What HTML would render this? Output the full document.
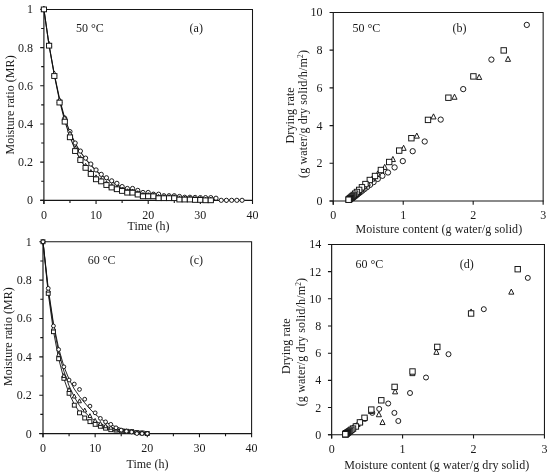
<!DOCTYPE html>
<html lang="en"><head><meta charset="utf-8"><title>Drying curves</title>
<style>
html,body{margin:0;padding:0;background:#fff}
svg{display:block}
text{font-family:"Liberation Serif","DejaVu Serif",serif;font-size:12px;fill:#1a1a1a}
</style></head><body>
<svg width="550" height="476" viewBox="0 0 550 476">
<rect width="550" height="476" fill="#fff"/>
<path d="M43.9 9.4H252.5V200.3" fill="none" stroke="#161616" stroke-width="1.05"/>
<path d="M43.9 8.9V204.0M40.199999999999996 200.3H253.0" fill="none" stroke="#161616" stroke-width="1.15"/>
<path d="M43.90 200.3v3.7M96.05 200.3v3.7M148.20 200.3v3.7M200.35 200.3v3.7M252.50 200.3v3.7M69.97 200.3v2.7M122.12 200.3v2.7M174.28 200.3v2.7M226.43 200.3v2.7M43.9 200.30h-3.7M43.9 162.12h-3.7M43.9 123.94h-3.7M43.9 85.76h-3.7M43.9 47.58h-3.7M43.9 9.40h-3.7M43.9 181.21h-2.7M43.9 143.03h-2.7M43.9 104.85h-2.7M43.9 66.67h-2.7M43.9 28.49h-2.7" fill="none" stroke="#161616" stroke-width="1.1"/>
<text x="43.90" y="218.50" text-anchor="middle">0</text>
<text x="96.05" y="218.50" text-anchor="middle">10</text>
<text x="148.20" y="218.50" text-anchor="middle">20</text>
<text x="200.35" y="218.50" text-anchor="middle">30</text>
<text x="252.50" y="218.50" text-anchor="middle">40</text>
<text x="33.10" y="204.30" text-anchor="end">0</text>
<text x="33.10" y="166.12" text-anchor="end">0.2</text>
<text x="33.10" y="127.94" text-anchor="end">0.4</text>
<text x="33.10" y="89.76" text-anchor="end">0.6</text>
<text x="33.10" y="51.58" text-anchor="end">0.8</text>
<text x="33.10" y="13.40" text-anchor="end">1</text>
<g>
<polyline points="43.90,9.40 49.11,45.67 54.33,74.31 59.55,98.88 64.76,118.40 69.97,132.24 75.19,143.32 80.41,151.95 85.62,158.97 90.84,165.17 96.05,170.71 101.26,175.24 106.48,178.82 111.69,181.83 116.91,184.65 122.12,187.37 127.34,189.13 132.56,190.09 137.77,191.57 142.98,193.09 148.20,194.05 153.41,194.91 158.63,195.72 163.84,196.48 169.06,196.86 174.28,197.05 179.49,197.63 184.71,198.20 189.92,198.44 195.13,198.58 200.35,198.73 205.56,198.77 210.78,198.92 216.00,199.73" fill="none" stroke="#111" stroke-width="1.05" stroke-linejoin="round"/>
<polyline points="43.90,9.40 49.11,45.67 54.33,75.07 59.55,100.70 64.76,120.79 69.97,136.83 75.19,149.85 80.41,159.73 85.62,167.42 90.84,173.76 96.05,178.49 101.26,181.78 106.48,184.74 111.69,187.32 116.91,189.23 122.12,190.95 127.34,192.23 132.56,193.14 137.77,194.53 142.98,195.86 148.20,196.29 153.41,196.77 158.63,197.72 163.84,198.20 169.06,198.20 174.28,198.53 179.49,199.20 184.71,199.54 189.92,199.63 195.13,199.82 200.35,200.01 205.56,200.20 210.78,200.30" fill="none" stroke="#111" stroke-width="1.05" stroke-linejoin="round"/>
</g>
<g fill="#fff" stroke="#111" stroke-width="0.95">
<circle cx="43.90" cy="9.40" r="2.1"/>
<circle cx="49.11" cy="45.67" r="2.1"/>
<circle cx="54.33" cy="75.26" r="2.1"/>
<circle cx="59.55" cy="101.03" r="2.1"/>
<circle cx="64.76" cy="118.21" r="2.1"/>
<circle cx="69.97" cy="131.58" r="2.1"/>
<circle cx="75.19" cy="143.03" r="2.1"/>
<circle cx="80.41" cy="151.05" r="2.1"/>
<circle cx="85.62" cy="158.11" r="2.1"/>
<circle cx="90.84" cy="164.03" r="2.1"/>
<circle cx="96.05" cy="169.95" r="2.1"/>
<circle cx="101.26" cy="174.34" r="2.1"/>
<circle cx="106.48" cy="177.77" r="2.1"/>
<circle cx="111.69" cy="180.83" r="2.1"/>
<circle cx="116.91" cy="183.31" r="2.1"/>
<circle cx="122.12" cy="186.56" r="2.1"/>
<circle cx="127.34" cy="188.46" r="2.1"/>
<circle cx="132.56" cy="188.46" r="2.1"/>
<circle cx="137.77" cy="190.37" r="2.1"/>
<circle cx="142.98" cy="192.47" r="2.1"/>
<circle cx="148.20" cy="192.47" r="2.1"/>
<circle cx="153.41" cy="194.19" r="2.1"/>
<circle cx="158.63" cy="194.19" r="2.1"/>
<circle cx="163.84" cy="195.72" r="2.1"/>
<circle cx="169.06" cy="195.72" r="2.1"/>
<circle cx="174.28" cy="195.72" r="2.1"/>
<circle cx="179.49" cy="196.48" r="2.1"/>
<circle cx="184.71" cy="197.25" r="2.1"/>
<circle cx="189.92" cy="197.25" r="2.1"/>
<circle cx="195.13" cy="197.44" r="2.1"/>
<circle cx="200.35" cy="197.63" r="2.1"/>
<circle cx="205.56" cy="197.63" r="2.1"/>
<circle cx="210.78" cy="197.63" r="2.1"/>
<circle cx="216.00" cy="198.20" r="2.1"/>
<circle cx="221.21" cy="200.30" r="2.1"/>
<circle cx="226.43" cy="200.30" r="2.1"/>
<circle cx="231.64" cy="200.30" r="2.1"/>
<circle cx="236.85" cy="200.30" r="2.1"/>
<circle cx="242.07" cy="200.30" r="2.1"/>
<path d="M43.90 6.10L46.40 11.10H41.40Z"/>
<path d="M49.11 41.42L51.61 46.42H46.61Z"/>
<path d="M54.33 71.01L56.83 76.01H51.83Z"/>
<path d="M59.55 97.73L62.05 102.73H57.05Z"/>
<path d="M64.76 115.49L67.26 120.49H62.26Z"/>
<path d="M69.97 131.14L72.47 136.14H67.47Z"/>
<path d="M75.19 145.84L77.69 150.84H72.69Z"/>
<path d="M80.41 155.57L82.91 160.57H77.91Z"/>
<path d="M85.62 163.40L88.12 168.40H83.12Z"/>
<path d="M90.84 169.51L93.34 174.51H88.34Z"/>
<path d="M96.05 174.86L98.55 179.86H93.55Z"/>
<path d="M101.26 177.34L103.76 182.34H98.76Z"/>
<path d="M106.48 180.77L108.98 185.77H103.98Z"/>
<path d="M111.69 183.45L114.19 188.45H109.19Z"/>
<path d="M116.91 185.36L119.41 190.36H114.41Z"/>
<path d="M122.12 187.07L124.62 192.07H119.62Z"/>
<path d="M127.34 188.79L129.84 193.79H124.84Z"/>
<path d="M132.56 188.98L135.06 193.98H130.06Z"/>
<path d="M137.77 190.70L140.27 195.70H135.27Z"/>
<path d="M142.98 192.42L145.48 197.42H140.48Z"/>
<path d="M148.20 192.61L150.70 197.61H145.70Z"/>
<path d="M153.41 192.80L155.91 197.80H150.91Z"/>
<path d="M158.63 194.33L161.13 199.33H156.13Z"/>
<path d="M163.84 194.52L166.34 199.52H161.34Z"/>
<path d="M169.06 194.71L171.56 199.71H166.56Z"/>
<path d="M174.28 194.71L176.78 199.71H171.78Z"/>
<path d="M179.49 195.85L181.99 200.85H176.99Z"/>
<path d="M184.71 196.05L187.21 201.05H182.21Z"/>
<path d="M189.92 196.05L192.42 201.05H187.42Z"/>
<path d="M195.13 196.43L197.63 201.43H192.63Z"/>
<path d="M200.35 196.43L202.85 201.43H197.85Z"/>
<path d="M205.56 197.00L208.06 202.00H203.06Z"/>
<path d="M210.78 197.00L213.28 202.00H208.28Z"/>
<rect x="41.30" y="7.00" width="5.2" height="4.8"/>
<rect x="46.51" y="43.27" width="5.2" height="4.8"/>
<rect x="51.73" y="73.62" width="5.2" height="4.8"/>
<rect x="56.95" y="100.16" width="5.2" height="4.8"/>
<rect x="62.16" y="119.25" width="5.2" height="4.8"/>
<rect x="67.38" y="134.90" width="5.2" height="4.8"/>
<rect x="72.59" y="148.65" width="5.2" height="4.8"/>
<rect x="77.81" y="157.62" width="5.2" height="4.8"/>
<rect x="83.02" y="165.45" width="5.2" height="4.8"/>
<rect x="88.24" y="171.56" width="5.2" height="4.8"/>
<rect x="93.45" y="176.90" width="5.2" height="4.8"/>
<rect x="98.66" y="179.00" width="5.2" height="4.8"/>
<rect x="103.88" y="182.63" width="5.2" height="4.8"/>
<rect x="109.09" y="185.11" width="5.2" height="4.8"/>
<rect x="114.31" y="186.83" width="5.2" height="4.8"/>
<rect x="119.53" y="188.55" width="5.2" height="4.8"/>
<rect x="124.74" y="190.26" width="5.2" height="4.8"/>
<rect x="129.96" y="190.26" width="5.2" height="4.8"/>
<rect x="135.17" y="192.17" width="5.2" height="4.8"/>
<rect x="140.38" y="193.89" width="5.2" height="4.8"/>
<rect x="145.60" y="193.89" width="5.2" height="4.8"/>
<rect x="150.81" y="193.89" width="5.2" height="4.8"/>
<rect x="156.03" y="195.80" width="5.2" height="4.8"/>
<rect x="161.25" y="195.80" width="5.2" height="4.8"/>
<rect x="166.46" y="195.80" width="5.2" height="4.8"/>
<rect x="171.68" y="195.80" width="5.2" height="4.8"/>
<rect x="176.89" y="197.14" width="5.2" height="4.8"/>
<rect x="182.11" y="197.14" width="5.2" height="4.8"/>
<rect x="187.32" y="197.14" width="5.2" height="4.8"/>
<rect x="192.53" y="197.52" width="5.2" height="4.8"/>
<rect x="197.75" y="197.52" width="5.2" height="4.8"/>
<rect x="202.97" y="197.90" width="5.2" height="4.8"/>
<rect x="208.18" y="197.90" width="5.2" height="4.8"/>
</g>
<text x="76" y="31.8">50 °C</text>
<text x="189.6" y="31.8">(a)</text>
<text x="148.5" y="229.5" text-anchor="middle">Time (h)</text>
<text transform="translate(14.2 154.6) rotate(-90)" textLength="99.3">Moisture ratio (MR)</text>
<path d="M43.0 241.75H251.6V433.55" fill="none" stroke="#161616" stroke-width="1.05"/>
<path d="M43.0 241.25V437.25M39.3 433.55H252.1" fill="none" stroke="#161616" stroke-width="1.15"/>
<path d="M43.00 433.55v3.7M95.15 433.55v3.7M147.30 433.55v3.7M199.45 433.55v3.7M251.60 433.55v3.7M69.08 433.55v2.7M121.22 433.55v2.7M173.38 433.55v2.7M225.53 433.55v2.7M43.0 433.55h-3.7M43.0 395.19h-3.7M43.0 356.83h-3.7M43.0 318.47h-3.7M43.0 280.11h-3.7M43.0 241.75h-3.7M43.0 414.37h-2.7M43.0 376.01h-2.7M43.0 337.65h-2.7M43.0 299.29h-2.7M43.0 260.93h-2.7" fill="none" stroke="#161616" stroke-width="1.1"/>
<text x="43.00" y="452.35" text-anchor="middle">0</text>
<text x="95.15" y="452.35" text-anchor="middle">10</text>
<text x="147.30" y="452.35" text-anchor="middle">20</text>
<text x="199.45" y="452.35" text-anchor="middle">30</text>
<text x="251.60" y="452.35" text-anchor="middle">40</text>
<text x="31.80" y="437.55" text-anchor="end">0</text>
<text x="31.80" y="399.19" text-anchor="end">0.2</text>
<text x="31.80" y="360.83" text-anchor="end">0.4</text>
<text x="31.80" y="322.47" text-anchor="end">0.6</text>
<text x="31.80" y="284.11" text-anchor="end">0.8</text>
<text x="31.80" y="245.75" text-anchor="end">1</text>
<g>
<polyline points="43.00,241.75 48.22,288.36 53.43,323.26 58.64,348.20 63.86,366.42 69.08,379.27 74.29,389.05 79.50,396.53 84.72,402.86 89.94,409.00 95.15,414.18 100.36,418.59 105.58,422.04 110.80,424.73 116.01,426.84 121.22,428.56 126.44,429.71 131.66,430.67 136.87,431.44 142.08,432.02 147.30,432.40" fill="none" stroke="#111" stroke-width="0.9" stroke-linejoin="round"/>
<polyline points="43.00,241.75 48.22,290.75 53.43,325.67 58.64,351.63 63.86,371.13 69.08,385.87 74.29,397.06 79.50,405.58 84.72,412.08 89.94,417.05 95.15,420.86 100.36,423.78 105.58,426.02 110.80,427.74 116.01,429.06 121.22,430.09 126.44,430.87 131.66,431.48 136.87,431.95 142.08,432.31 147.30,432.59" fill="none" stroke="#111" stroke-width="0.9" stroke-linejoin="round"/>
<polyline points="43.00,241.75 48.22,293.30 53.43,330.99 58.64,358.55 63.86,378.71 69.08,393.45 74.29,404.22 79.50,412.11 84.72,417.87 89.94,422.08 95.15,425.16 100.36,427.42 105.58,429.07 110.80,430.27 116.01,431.15 121.22,431.80 126.44,432.27 131.66,432.61 136.87,432.86 142.08,433.05 147.30,433.18" fill="none" stroke="#111" stroke-width="0.9" stroke-linejoin="round"/>
</g>
<g fill="#fff" stroke="#111" stroke-width="0.95">
<rect x="41.05" y="239.80" width="3.9" height="3.9"/>
<rect x="46.27" y="291.39" width="3.9" height="3.9"/>
<rect x="51.48" y="329.75" width="3.9" height="3.9"/>
<rect x="56.69" y="356.80" width="3.9" height="3.9"/>
<rect x="61.91" y="376.36" width="3.9" height="3.9"/>
<rect x="67.12" y="391.32" width="3.9" height="3.9"/>
<rect x="72.34" y="403.21" width="3.9" height="3.9"/>
<rect x="77.55" y="410.89" width="3.9" height="3.9"/>
<rect x="82.77" y="416.06" width="3.9" height="3.9"/>
<rect x="87.98" y="419.71" width="3.9" height="3.9"/>
<rect x="93.20" y="422.39" width="3.9" height="3.9"/>
<rect x="98.41" y="424.31" width="3.9" height="3.9"/>
<rect x="103.63" y="426.23" width="3.9" height="3.9"/>
<rect x="108.84" y="427.76" width="3.9" height="3.9"/>
<rect x="114.06" y="428.15" width="3.9" height="3.9"/>
<rect x="119.27" y="429.30" width="3.9" height="3.9"/>
<rect x="124.49" y="429.30" width="3.9" height="3.9"/>
<rect x="129.71" y="429.68" width="3.9" height="3.9"/>
<rect x="134.92" y="430.64" width="3.9" height="3.9"/>
<rect x="140.13" y="431.02" width="3.9" height="3.9"/>
<rect x="145.35" y="431.60" width="3.9" height="3.9"/>
<path d="M43.00 239.30L44.95 243.20H41.05Z"/>
<path d="M48.22 288.21L50.17 292.11H46.27Z"/>
<path d="M53.43 325.99L55.38 329.89H51.48Z"/>
<path d="M58.64 352.46L60.59 356.36H56.69Z"/>
<path d="M63.86 373.56L65.81 377.46H61.91Z"/>
<path d="M69.08 387.56L71.03 391.46H67.12Z"/>
<path d="M74.29 394.08L76.24 397.98H72.34Z"/>
<path d="M79.50 398.88L81.45 402.78H77.55Z"/>
<path d="M84.72 408.08L86.67 411.98H82.77Z"/>
<path d="M89.94 413.65L91.89 417.55H87.98Z"/>
<path d="M95.15 418.44L97.10 422.34H93.20Z"/>
<path d="M100.36 421.51L102.31 425.41H98.41Z"/>
<path d="M105.58 423.81L107.53 427.71H103.63Z"/>
<path d="M110.80 425.35L112.75 429.25H108.84Z"/>
<path d="M116.01 426.88L117.96 430.78H114.06Z"/>
<path d="M121.22 428.22L123.17 432.12H119.27Z"/>
<path d="M126.44 428.80L128.39 432.70H124.49Z"/>
<path d="M131.66 429.57L133.60 433.47H129.71Z"/>
<path d="M136.87 430.33L138.82 434.23H134.92Z"/>
<path d="M142.08 430.72L144.03 434.62H140.13Z"/>
<path d="M147.30 431.10L149.25 435.00H145.35Z"/>
<circle cx="43.00" cy="241.75" r="1.9"/>
<circle cx="48.22" cy="288.36" r="1.9"/>
<circle cx="53.43" cy="325.95" r="1.9"/>
<circle cx="58.64" cy="349.54" r="1.9"/>
<circle cx="63.86" cy="366.80" r="1.9"/>
<circle cx="69.08" cy="380.04" r="1.9"/>
<circle cx="74.29" cy="384.07" r="1.9"/>
<circle cx="79.50" cy="389.44" r="1.9"/>
<circle cx="84.72" cy="399.22" r="1.9"/>
<circle cx="89.94" cy="406.12" r="1.9"/>
<circle cx="95.15" cy="412.84" r="1.9"/>
<circle cx="100.36" cy="418.40" r="1.9"/>
<circle cx="105.58" cy="421.85" r="1.9"/>
<circle cx="110.80" cy="424.34" r="1.9"/>
<circle cx="116.01" cy="427.80" r="1.9"/>
<circle cx="121.22" cy="430.10" r="1.9"/>
<circle cx="126.44" cy="431.25" r="1.9"/>
<circle cx="131.66" cy="432.02" r="1.9"/>
<circle cx="136.87" cy="433.55" r="1.9"/>
<circle cx="142.08" cy="433.55" r="1.9"/>
<circle cx="147.30" cy="433.55" r="1.9"/>
</g>
<text x="87.8" y="263.6">60 °C</text>
<text x="189.8" y="263.6">(c)</text>
<text x="147.5" y="468.1" text-anchor="middle">Time (h)</text>
<text transform="translate(12.2 386.0) rotate(-90)" textLength="98.8">Moisture ratio (MR)</text>
<path d="M333.25 12.45H543.15V201.0" fill="none" stroke="#161616" stroke-width="1.05"/>
<path d="M333.25 11.95V204.7M329.55 201.0H543.65" fill="none" stroke="#161616" stroke-width="1.15"/>
<path d="M333.25 201.0v3.7M403.22 201.0v3.7M473.18 201.0v3.7M543.15 201.0v3.7M333.25 201.00h-3.7M333.25 163.29h-3.7M333.25 125.58h-3.7M333.25 87.87h-3.7M333.25 50.16h-3.7M333.25 12.45h-3.7" fill="none" stroke="#161616" stroke-width="1.1"/>
<text x="333.25" y="219.20" text-anchor="middle">0</text>
<text x="403.22" y="219.20" text-anchor="middle">1</text>
<text x="473.18" y="219.20" text-anchor="middle">2</text>
<text x="543.15" y="219.20" text-anchor="middle">3</text>
<text x="322.45" y="205.00" text-anchor="end">0</text>
<text x="322.45" y="167.29" text-anchor="end">2</text>
<text x="322.45" y="129.58" text-anchor="end">4</text>
<text x="322.45" y="91.87" text-anchor="end">6</text>
<text x="322.45" y="54.16" text-anchor="end">8</text>
<text x="322.45" y="16.45" text-anchor="end">10</text>
<g fill="#fff" stroke="#111" stroke-width="0.95">
<circle cx="526.80" cy="24.90" r="2.65"/>
<circle cx="491.40" cy="59.60" r="2.65"/>
<circle cx="463.20" cy="89.10" r="2.65"/>
<circle cx="440.70" cy="119.60" r="2.65"/>
<circle cx="424.70" cy="141.50" r="2.65"/>
<circle cx="412.70" cy="151.20" r="2.65"/>
<circle cx="402.80" cy="161.10" r="2.65"/>
<circle cx="394.60" cy="167.40" r="2.65"/>
<circle cx="388.00" cy="172.50" r="2.65"/>
<circle cx="382.40" cy="175.80" r="2.65"/>
<circle cx="377.80" cy="178.90" r="2.65"/>
<circle cx="373.59" cy="182.12" r="2.65"/>
<circle cx="370.06" cy="184.82" r="2.65"/>
<circle cx="367.09" cy="187.09" r="2.65"/>
<circle cx="364.59" cy="188.99" r="2.65"/>
<circle cx="362.50" cy="190.59" r="2.65"/>
<circle cx="360.74" cy="191.94" r="2.65"/>
<circle cx="359.26" cy="193.07" r="2.65"/>
<circle cx="358.02" cy="194.02" r="2.65"/>
<circle cx="356.98" cy="194.81" r="2.65"/>
<circle cx="356.10" cy="195.48" r="2.65"/>
<circle cx="355.36" cy="196.05" r="2.65"/>
<circle cx="354.75" cy="196.52" r="2.65"/>
<circle cx="354.23" cy="196.92" r="2.65"/>
<circle cx="353.79" cy="197.25" r="2.65"/>
<circle cx="353.42" cy="197.53" r="2.65"/>
<circle cx="353.12" cy="197.77" r="2.65"/>
<circle cx="352.86" cy="197.96" r="2.65"/>
<circle cx="352.64" cy="198.13" r="2.65"/>
<path d="M508.00 56.25L510.55 61.35H505.45Z"/>
<path d="M479.20 74.35L481.75 79.45H476.65Z"/>
<path d="M454.50 94.15L457.05 99.25H451.95Z"/>
<path d="M433.50 113.85L436.05 118.95H430.95Z"/>
<path d="M416.80 133.05L419.35 138.15H414.25Z"/>
<path d="M403.60 145.25L406.15 150.35H401.05Z"/>
<path d="M392.90 156.45L395.45 161.55H390.35Z"/>
<path d="M384.70 164.35L387.25 169.45H382.15Z"/>
<path d="M377.76 170.85L380.31 175.95H375.21Z"/>
<path d="M372.21 176.05L374.76 181.15H369.66Z"/>
<path d="M367.77 180.21L370.32 185.31H365.22Z"/>
<path d="M364.21 183.54L366.76 188.64H361.66Z"/>
<path d="M361.37 186.20L363.92 191.30H358.82Z"/>
<path d="M359.10 188.33L361.65 193.43H356.55Z"/>
<path d="M357.28 190.03L359.83 195.13H354.73Z"/>
<path d="M355.82 191.40L358.37 196.50H353.27Z"/>
<path d="M354.66 192.49L357.21 197.59H352.11Z"/>
<path d="M353.73 193.36L356.28 198.46H351.18Z"/>
<path d="M352.98 194.06L355.53 199.16H350.43Z"/>
<path d="M352.38 194.62L354.93 199.72H349.83Z"/>
<path d="M351.91 195.06L354.46 200.16H349.36Z"/>
<path d="M351.53 195.42L354.08 200.52H348.98Z"/>
<rect x="501.00" y="47.70" width="5.4" height="5.4"/>
<rect x="470.70" y="73.70" width="5.4" height="5.4"/>
<rect x="445.70" y="95.00" width="5.4" height="5.4"/>
<rect x="425.30" y="117.20" width="5.4" height="5.4"/>
<rect x="408.70" y="135.50" width="5.4" height="5.4"/>
<rect x="396.50" y="147.90" width="5.4" height="5.4"/>
<rect x="386.50" y="159.30" width="5.4" height="5.4"/>
<rect x="378.20" y="167.30" width="5.4" height="5.4"/>
<rect x="372.30" y="173.30" width="5.4" height="5.4"/>
<rect x="367.10" y="177.30" width="5.4" height="5.4"/>
<rect x="362.74" y="181.36" width="5.4" height="5.4"/>
<rect x="359.25" y="184.61" width="5.4" height="5.4"/>
<rect x="356.46" y="187.21" width="5.4" height="5.4"/>
<rect x="354.23" y="189.29" width="5.4" height="5.4"/>
<rect x="352.44" y="190.95" width="5.4" height="5.4"/>
<rect x="351.01" y="192.28" width="5.4" height="5.4"/>
<rect x="349.87" y="193.34" width="5.4" height="5.4"/>
<rect x="348.96" y="194.19" width="5.4" height="5.4"/>
<rect x="348.23" y="194.88" width="5.4" height="5.4"/>
<rect x="347.64" y="195.42" width="5.4" height="5.4"/>
<rect x="347.17" y="195.86" width="5.4" height="5.4"/>
<rect x="346.80" y="196.20" width="5.4" height="5.4"/>
<rect x="346.50" y="196.48" width="5.4" height="5.4"/>
<rect x="346.26" y="196.71" width="5.4" height="5.4"/>
<rect x="346.07" y="196.89" width="5.4" height="5.4"/>
<rect x="345.91" y="197.03" width="5.4" height="5.4"/>
</g>
<text x="352.5" y="32.2">50 °C</text>
<text x="452.5" y="32.2">(b)</text>
<text x="355.4" y="233.3" textLength="166.8">Moisture content (g water/g solid)</text>
<text transform="translate(294.0 143.5) rotate(-90)" textLength="56.2">Drying rate</text>
<text transform="translate(307.4 177.9) rotate(-90)" textLength="127.8">(g water/g dry solid/h/m<tspan font-size="7.5" dy="-4">2</tspan><tspan dy="4">)</tspan></text>
<path d="M331.65 244.45H544.45V434.75" fill="none" stroke="#161616" stroke-width="1.05"/>
<path d="M331.65 243.95V438.45M327.95 434.75H544.95" fill="none" stroke="#161616" stroke-width="1.15"/>
<path d="M331.65 434.75v3.7M402.58 434.75v3.7M473.52 434.75v3.7M544.45 434.75v3.7M331.65 434.75h-3.7M331.65 407.56h-3.7M331.65 380.38h-3.7M331.65 353.19h-3.7M331.65 326.01h-3.7M331.65 298.82h-3.7M331.65 271.64h-3.7M331.65 244.45h-3.7" fill="none" stroke="#161616" stroke-width="1.1"/>
<text x="331.65" y="453.25" text-anchor="middle">0</text>
<text x="402.58" y="453.25" text-anchor="middle">1</text>
<text x="473.52" y="453.25" text-anchor="middle">2</text>
<text x="544.45" y="453.25" text-anchor="middle">3</text>
<text x="321.35" y="438.75" text-anchor="end">0</text>
<text x="321.35" y="411.56" text-anchor="end">2</text>
<text x="321.35" y="384.38" text-anchor="end">4</text>
<text x="321.35" y="357.19" text-anchor="end">6</text>
<text x="321.35" y="330.01" text-anchor="end">8</text>
<text x="321.35" y="302.82" text-anchor="end">10</text>
<text x="321.35" y="275.64" text-anchor="end">12</text>
<text x="321.35" y="248.45" text-anchor="end">14</text>
<g fill="#fff" stroke="#111" stroke-width="0.95">
<circle cx="527.80" cy="277.90" r="2.5"/>
<circle cx="483.80" cy="309.20" r="2.5"/>
<circle cx="448.50" cy="354.20" r="2.5"/>
<circle cx="426.00" cy="377.50" r="2.5"/>
<circle cx="410.00" cy="393.00" r="2.5"/>
<circle cx="388.20" cy="403.50" r="2.5"/>
<circle cx="379.20" cy="408.90" r="2.5"/>
<circle cx="394.40" cy="412.90" r="2.5"/>
<circle cx="398.30" cy="421.00" r="2.5"/>
<circle cx="372.30" cy="412.90" r="2.5"/>
<circle cx="365.00" cy="418.50" r="2.5"/>
<circle cx="360.00" cy="422.50" r="2.5"/>
<circle cx="356.00" cy="425.80" r="2.5"/>
<circle cx="354.10" cy="427.34" r="2.5"/>
<circle cx="352.58" cy="428.57" r="2.5"/>
<circle cx="351.36" cy="429.56" r="2.5"/>
<circle cx="350.39" cy="430.35" r="2.5"/>
<circle cx="349.61" cy="430.98" r="2.5"/>
<circle cx="348.99" cy="431.48" r="2.5"/>
<circle cx="348.49" cy="431.89" r="2.5"/>
<circle cx="348.09" cy="432.21" r="2.5"/>
<circle cx="347.78" cy="432.47" r="2.5"/>
<circle cx="347.52" cy="432.67" r="2.5"/>
<circle cx="347.32" cy="432.84" r="2.5"/>
<circle cx="347.15" cy="432.97" r="2.5"/>
<circle cx="347.02" cy="433.08" r="2.5"/>
<circle cx="346.92" cy="433.16" r="2.5"/>
<path d="M511.30 289.05L513.85 294.15H508.75Z"/>
<path d="M471.10 308.95L473.65 314.05H468.55Z"/>
<path d="M436.40 349.25L438.95 354.35H433.85Z"/>
<path d="M412.40 370.55L414.95 375.65H409.85Z"/>
<path d="M395.10 388.75L397.65 393.85H392.55Z"/>
<path d="M378.90 411.65L381.45 416.75H376.35Z"/>
<path d="M382.50 419.45L385.05 424.55H379.95Z"/>
<path d="M371.00 408.45L373.55 413.55H368.45Z"/>
<path d="M364.00 415.95L366.55 421.05H361.45Z"/>
<path d="M360.40 419.01L362.95 424.11H357.85Z"/>
<path d="M357.52 421.46L360.07 426.56H354.97Z"/>
<path d="M355.22 423.42L357.77 428.52H352.67Z"/>
<path d="M353.37 424.98L355.92 430.08H350.82Z"/>
<path d="M351.90 426.24L354.45 431.34H349.35Z"/>
<path d="M350.72 427.24L353.27 432.34H348.17Z"/>
<path d="M349.77 428.04L352.32 433.14H347.22Z"/>
<path d="M349.02 428.68L351.57 433.78H346.47Z"/>
<path d="M348.42 429.20L350.97 434.30H345.87Z"/>
<path d="M347.93 429.61L350.48 434.71H345.38Z"/>
<path d="M347.55 429.94L350.10 435.04H345.00Z"/>
<path d="M347.24 430.20L349.79 435.30H344.69Z"/>
<path d="M346.99 430.41L349.54 435.51H344.44Z"/>
<path d="M346.79 430.58L349.34 435.68H344.24Z"/>
<rect x="515.00" y="266.50" width="5.4" height="5.4"/>
<rect x="468.40" y="310.80" width="5.4" height="5.4"/>
<rect x="434.60" y="344.20" width="5.4" height="5.4"/>
<rect x="409.80" y="368.80" width="5.4" height="5.4"/>
<rect x="391.90" y="384.20" width="5.4" height="5.4"/>
<rect x="378.60" y="397.60" width="5.4" height="5.4"/>
<rect x="368.60" y="406.90" width="5.4" height="5.4"/>
<rect x="361.80" y="415.10" width="5.4" height="5.4"/>
<rect x="357.20" y="419.70" width="5.4" height="5.4"/>
<rect x="353.20" y="423.80" width="5.4" height="5.4"/>
<rect x="350.30" y="425.90" width="5.4" height="5.4"/>
<rect x="348.72" y="427.06" width="5.4" height="5.4"/>
<rect x="347.46" y="427.99" width="5.4" height="5.4"/>
<rect x="346.44" y="428.73" width="5.4" height="5.4"/>
<rect x="345.64" y="429.32" width="5.4" height="5.4"/>
<rect x="344.99" y="429.80" width="5.4" height="5.4"/>
<rect x="344.47" y="430.18" width="5.4" height="5.4"/>
<rect x="344.06" y="430.48" width="5.4" height="5.4"/>
<rect x="343.73" y="430.73" width="5.4" height="5.4"/>
<rect x="343.46" y="430.92" width="5.4" height="5.4"/>
<rect x="343.25" y="431.08" width="5.4" height="5.4"/>
<rect x="343.08" y="431.20" width="5.4" height="5.4"/>
<rect x="342.94" y="431.30" width="5.4" height="5.4"/>
<rect x="342.83" y="431.38" width="5.4" height="5.4"/>
<rect x="342.75" y="431.44" width="5.4" height="5.4"/>
<rect x="342.68" y="431.50" width="5.4" height="5.4"/>
<rect x="342.62" y="431.54" width="5.4" height="5.4"/>
</g>
<text x="355.4" y="268.4">60 °C</text>
<text x="459.8" y="268.4">(d)</text>
<text x="344.2" y="469.3" textLength="185">Moisture content (g water/g dry solid)</text>
<text transform="translate(290.3 374.1) rotate(-90)" textLength="55.8">Drying rate</text>
<text transform="translate(304.8 406.3) rotate(-90)" textLength="128.4">(g water/g dry solid/h/m<tspan font-size="7.5" dy="-4">2</tspan><tspan dy="4">)</tspan></text>
</svg>
</body></html>
